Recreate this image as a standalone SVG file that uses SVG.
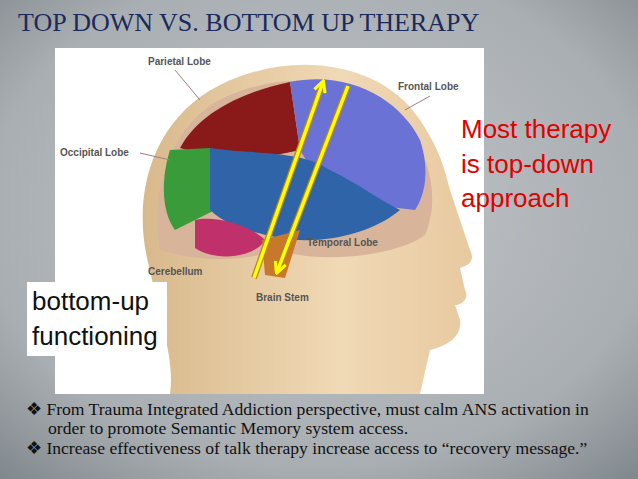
<svg xmlns="http://www.w3.org/2000/svg" width="638" height="479" viewBox="0 0 638 479">
<defs>
<radialGradient id="bg" cx="0.5" cy="0.45" r="0.75"><stop offset="0" stop-color="#c2c6c9"/><stop offset="0.7" stop-color="#a9aeb2"/><stop offset="1" stop-color="#7f868b"/></radialGradient>
<linearGradient id="skin" x1="0" y1="0" x2="1" y2="0"><stop offset="0" stop-color="#d9b98c"/><stop offset="0.6" stop-color="#f0d9b5"/><stop offset="1" stop-color="#e8c9a0"/></linearGradient>
<marker id="ah" viewBox="0 0 10 10" refX="8" refY="5" markerWidth="4" markerHeight="4" orient="auto"><path d="M1,1 L9,5 L1,9" fill="none" stroke="#ffff00" stroke-width="2.2"/></marker>
</defs>
<style>
.lbl{font-family:"Liberation Sans",Arial,sans-serif;font-size:10px;font-weight:bold;fill:#555}
.lead{stroke:#a08080;stroke-width:1}
.big{font-family:"Liberation Sans",Arial,sans-serif;font-size:26px}
.bul{font-family:"Liberation Serif","Times New Roman",serif;font-size:17.6px;fill:#111}
</style>
<rect width="638" height="479" fill="url(#bg)"/>
<text x="18" y="31" font-family="Liberation Serif,'Times New Roman',serif" font-size="26" fill="#1b2a5c">TOP DOWN VS. BOTTOM UP THERAPY</text>
<g id="photo">
<rect x="55" y="48" width="429" height="346" fill="#ffffff"/>
<path d="M170,394 C175,360 160,320 150,270 C130,200 150,120 220,85 C290,50 380,60 420,120 C440,150 445,170 450,190 L470,250 C475,260 470,265 460,268 L465,290 C470,300 460,305 455,305 L460,320 C462,335 450,345 430,350 L420,394 Z" fill="url(#skin)"/>
<path d="M160,250 C150,190 170,120 230,95 C290,70 370,75 410,130 C430,160 440,200 425,235 C400,255 320,265 280,250 C240,262 200,262 160,250 Z" fill="#d8b49a"/>
<path d="M180,148 C200,110 250,90 290,82 L300,150 C260,160 220,160 180,148 Z" fill="#8a1a1a"/>
<path d="M290,82 C350,70 400,100 420,140 C430,170 425,195 415,210 L330,200 L300,150 Z" fill="#6b72d6"/>
<path d="M170,150 L210,148 L215,210 L175,230 C160,210 162,175 170,150 Z" fill="#3a9b3a"/>
<path d="M210,148 C260,155 300,150 330,170 C360,185 380,200 400,210 C370,235 320,245 280,238 C250,232 225,225 210,210 Z" fill="#2f64a8"/>
<path d="M195,220 C215,215 250,225 265,240 C255,258 215,262 195,248 Z" fill="#c0306a"/>
<path d="M262,240 L300,230 L285,278 L265,275 Z" fill="#c8782a"/>
</g>
<g id="labels">
<text class="lbl" x="148" y="65">Parietal Lobe</text><line class="lead" x1="175" y1="70" x2="200" y2="100"/>
<text class="lbl" x="398" y="90">Frontal Lobe</text><line class="lead" x1="430" y1="96" x2="405" y2="110"/>
<text class="lbl" x="60" y="156">Occipital Lobe</text><line class="lead" x1="140" y1="153" x2="170" y2="160"/>
<text class="lbl" x="307" y="246">Temporal Lobe</text>
<text class="lbl" x="148" y="275">Cerebellum</text>
<text class="lbl" x="256" y="301">Brain Stem</text>
</g>
<g id="connectors">
<line x1="254" y1="278" x2="323" y2="82" stroke="#b8861a" stroke-width="6"/>
<line x1="254" y1="278" x2="323" y2="82" stroke="#ffff00" stroke-width="3.5" marker-end="url(#ah)"/>
<line x1="348" y1="86" x2="277" y2="272" stroke="#b8861a" stroke-width="6"/>
<line x1="348" y1="86" x2="277" y2="272" stroke="#ffff00" stroke-width="3.5" marker-end="url(#ah)"/>
</g>
<g id="text-top"><text class="big" fill="#e00000"><tspan x="461" y="138">Most therapy</tspan><tspan x="461" y="173">is top-down</tspan><tspan x="461" y="207">approach</tspan></text></g>
<g id="text-bottom"><rect x="27" y="282" width="140" height="74" fill="#ffffff"/><text class="big" fill="#111"><tspan x="32" y="310">bottom-up</tspan><tspan x="32" y="345">functioning</tspan></text></g>
<g id="bullets">
<text class="bul" x="26" y="415">❖ From Trauma Integrated Addiction perspective, must calm ANS activation in</text>
<text class="bul" x="48" y="434">order to promote Semantic Memory system access.</text>
<text class="bul" x="26" y="454">❖ Increase effectiveness of talk therapy increase access to “recovery message.”</text>
</g>
</svg>
